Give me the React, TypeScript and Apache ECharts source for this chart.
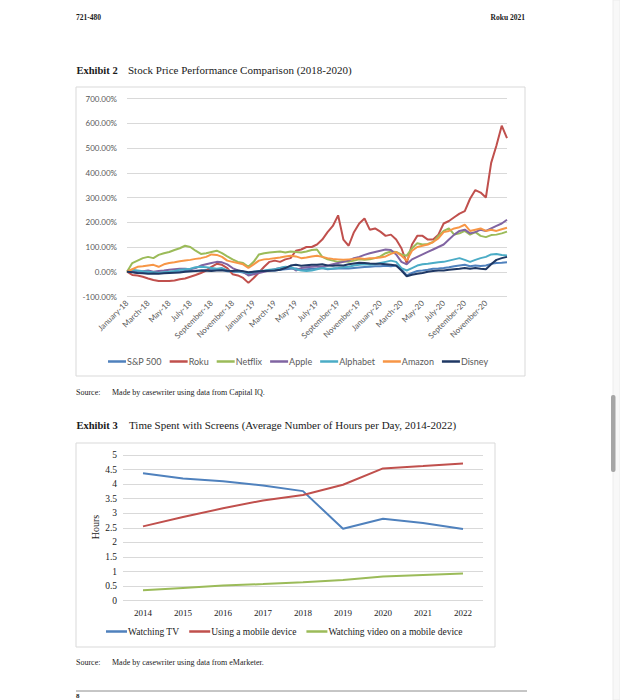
import React, { useEffect, useRef } from "react";
import * as echarts from "echarts";

// ---------- Exhibit 2 data (semi-monthly, Jan-2018 .. Dec-2020, % change) ----------
const stockTickLabels = [
  "January-18", "March-18", "May-18", "July-18", "September-18", "November-18",
  "January-19", "March-19", "May-19", "July-19", "September-19", "November-19",
  "January-20", "March-20", "May-20", "July-20", "September-20", "November-20",
];
const stockNames = ["S&P 500", "Roku", "Netflix", "Apple", "Alphabet", "Amazon", "Disney"];
const stockColors = ["#4F81BD", "#C0504D", "#9BBB59", "#8064A2", "#4BACC6", "#F79646", "#1F3864"];

const sp500 = [
  0, 4, 0, -2, -3, -2, -5, -3, -2, 0, 1, 3, 2, 4, 5, 7, 8, 9, 8, 2, 0, 1, -3, -10,
  -5, 0, 3, 5, 5, 8, 10, 12, 13, 8, 10, 12, 13, 15, 10, 12, 13, 14, 13, 15, 17, 19, 20, 22,
  22, 24, 22, 25, 10, -15, -5, 3, 5, 8, 12, 13, 15, 18, 22, 25, 28, 22, 25, 23, 25, 32, 35, 36, 38,
];
const roku = [
  0, -13, -15, -20, -27, -33, -37, -37, -37, -35, -30, -27, -20, -13, -5, 5, 20, 32, 28, 15, -10, -15, -25, -45,
  -25, -3, 20, 40, 45, 40, 50, 55, 85, 90, 100, 100, 110, 130, 160, 185, 228, 130, 105, 160, 195, 215, 170, 175,
  162, 145, 150, 130, 95, 35, 110, 145, 145, 130, 130, 150, 195, 205, 220, 235, 245, 295, 330, 320, 300, 440, 510, 590, 540,
];
const netflix = [
  0, 35, 45, 55, 60, 55, 68, 75, 80, 88, 95, 105, 100, 85, 72, 75, 80, 85, 75, 62, 50, 40, 35, 20,
  40, 70, 75, 78, 80, 82, 78, 82, 80, 78, 82, 88, 90, 60, 50, 45, 40, 42, 40, 45, 50, 48, 50, 55,
  62, 75, 82, 80, 70, 65, 95, 115, 110, 112, 120, 145, 165, 175, 150, 155, 165, 150, 160, 145, 140, 148, 150, 155, 162,
];
const apple = [
  0, 0, -5, 2, 5, 0, 3, 5, 8, 10, 12, 12, 10, 15, 25, 30, 35, 40, 38, 30, 15, 5, 0, -15,
  -10, -5, 0, 5, 10, 15, 18, 20, 5, 15, 18, 20, 22, 20, 25, 30, 35, 40, 45, 55, 60, 68, 75, 80,
  85, 90, 88, 70, 40, 30, 50, 60, 70, 80, 90, 100, 110, 130, 150, 165, 170, 155, 160, 170, 165, 175, 185, 195, 210,
];
const alphabet = [
  0, 8, 5, 2, 0, -2, -5, -2, 0, 3, 8, 10, 12, 18, 20, 18, 15, 12, 15, 5, 2, 3, 0, -5,
  0, 3, 5, 8, 10, 15, 20, 18, 10, 5, 3, 5, 10, 15, 12, 13, 15, 18, 20, 25, 28, 30, 28, 30,
  35, 40, 45, 40, 15, 5, 15, 25, 30, 32, 35, 38, 40, 45, 50, 55, 48, 40, 48, 55, 60, 70, 72, 68, 66,
];
const amazon = [
  0, 10, 20, 22, 25, 28, 20, 30, 35, 38, 42, 45, 48, 52, 55, 60, 70, 68, 60, 45, 40, 35, 30, 15,
  30, 45, 50, 52, 55, 58, 62, 65, 62, 55, 58, 62, 65, 60, 55, 52, 50, 48, 50, 52, 55, 52, 55, 56,
  58, 62, 72, 80, 65, 45, 85, 100, 105, 110, 120, 135, 160, 165, 175, 180, 190, 165, 170, 175, 165, 170, 165, 172, 178,
];
const disney = [
  0, -2, -5, -6, -8, -7, -8, -6, -5, -4, -3, 0, 2, 3, 5, 4, 3, 5, 6, 4, 3, 5, 2, -2,
  0, 2, 3, 4, 5, 8, 15, 25, 28, 24, 26, 28, 28, 30, 25, 24, 26, 25, 30, 33, 36, 35, 33, 32,
  32, 30, 28, 25, 5, -18, -12, -8, -5, 0, 3, 5, 5, 8, 10, 12, 15, 12, 15, 12, 10, 30, 48, 55, 60,
];
const stockSeries = [sp500, roku, netflix, apple, alphabet, amazon, disney];

// ---------- Exhibit 3 data ----------
const screenYears = ["2014", "2015", "2016", "2017", "2018", "2019", "2020", "2021", "2022"];
const screenNames = ["Watching TV", "Using a mobile device", "Watching video on a mobile device"];
const screenColors = ["#4F81BD", "#C0504D", "#9BBB59"];
const watchingTV = [4.37, 4.19, 4.1, 3.95, 3.76, 2.47, 2.81, 2.67, 2.46];
const mobileDevice = [2.55, 2.87, 3.17, 3.44, 3.63, 3.98, 4.54, 4.62, 4.71];
const mobileVideo = [0.36, 0.44, 0.52, 0.57, 0.63, 0.71, 0.83, 0.88, 0.93];
const screenSeries = [watchingTV, mobileDevice, mobileVideo];

const SERIF = "'Liberation Serif', 'DejaVu Serif', serif";
const SANS = "Lato, 'Open Sans', sans-serif";

export default function App() {
  const ref = useRef<HTMLDivElement>(null);

  useEffect(() => {
    if (!ref.current) return;
    const chart = echarts.init(ref.current, null, { renderer: "svg" });

    // semi-monthly category points: 73 points (two per month + final)
    const stockDates: string[] = [];
    for (let k = 0; k < sp500.length; k++) {
      const m = Math.floor(k / 2);
      const y = 2018 + Math.floor(m / 12);
      const mo = (m % 12) + 1;
      stockDates.push(`${y}-${mo}-${k % 2 === 0 ? 1 : 16}`);
    }

    const text = (t: string, x: number, y: number, size: number, opts: any = {}) => ({
      type: "text",
      x,
      y,
      rotation: opts.rotation || 0,
      style: {
        text: t,
        fontFamily: opts.family || SERIF,
        fontSize: size,
        fontWeight: opts.bold ? "bold" : "normal",
        fill: opts.fill || "#1a1a1a",
        align: opts.align || "left",
        verticalAlign: "middle",
      },
    });

    const option: any = {
      animation: false,
      backgroundColor: "#ffffff",
      grid: [
        { left: 127, top: 98.5, width: 380, height: 198, containLabel: false },
        { left: 123, top: 455, width: 360, height: 145.7, containLabel: false },
      ],
      xAxis: [
        {
          type: "category",
          gridIndex: 0,
          data: stockDates,
          boundaryGap: false,
          axisLine: { show: false },
          axisTick: { show: false },
          splitLine: { show: false },
          axisLabel: {
            interval: (idx: number) => idx % 4 === 0 && idx < 72,
            formatter: (_v: string, idx: number) => stockTickLabels[idx / 4] || "",
            rotate: 45,
            margin: 5,
            fontFamily: SANS,
            fontSize: 8,
            color: "#595959",
          },
        },
        {
          type: "category",
          gridIndex: 1,
          data: screenYears,
          boundaryGap: true,
          axisLine: { show: false },
          axisTick: { show: false },
          axisLabel: { fontFamily: SERIF, fontSize: 9, color: "#1a1a1a", margin: 8 },
        },
      ],
      yAxis: [
        {
          type: "value",
          gridIndex: 0,
          min: -100,
          max: 700,
          interval: 100,
          axisLine: { show: false },
          axisTick: { show: false },
          splitLine: { lineStyle: { color: "#d9d9d9", width: 1 } },
          axisLabel: {
            formatter: (v: number) => v.toFixed(2) + "%",
            fontFamily: SANS,
            fontSize: 8,
            color: "#595959",
            margin: 10,
          },
        },
        {
          type: "value",
          gridIndex: 1,
          min: 0,
          max: 5,
          interval: 0.5,
          axisLine: { show: false },
          axisTick: { show: false },
          splitLine: { lineStyle: { color: "#d9d9d9", width: 1 } },
          axisLabel: { fontFamily: SERIF, fontSize: 9.5, color: "#1a1a1a", margin: 6 },
        },
      ],
      legend: [
        {
          data: stockNames,
          left: 108,
          top: 357,
          padding: 0,
          itemWidth: 18,
          itemHeight: 2.5,
          itemGap: 8,
          icon: "rect",
          textStyle: { fontFamily: SANS, fontSize: 9, color: "#595959", padding: [0, 0, 0, -4] },
        },
        {
          data: screenNames,
          left: 106,
          top: 626.5,
          padding: 0,
          itemWidth: 21,
          itemHeight: 2.5,
          itemGap: 10,
          icon: "rect",
          textStyle: { fontFamily: SERIF, fontSize: 9.5, color: "#1a1a1a", padding: [0, 0, 0, -4] },
        },
      ],
      series: [
        ...stockNames.map((name, i) => ({
          name,
          type: "line",
          xAxisIndex: 0,
          yAxisIndex: 0,
          data: stockSeries[i],
          symbol: "none",
          showSymbol: false,
          lineStyle: { color: stockColors[i], width: 2 },
          itemStyle: { color: stockColors[i] },
        })),
        ...screenNames.map((name, i) => ({
          name,
          type: "line",
          xAxisIndex: 1,
          yAxisIndex: 1,
          data: screenSeries[i],
          symbol: "none",
          showSymbol: false,
          lineStyle: { color: screenColors[i], width: 2 },
          itemStyle: { color: screenColors[i] },
        })),
      ],
      graphic: [
        text("721-480", 76, 17, 7.5, { bold: true }),
        text("Roku 2021", 525, 17, 7.5, { bold: true, align: "right" }),
        text("Exhibit 2", 76.5, 70, 10.5, { bold: true }),
        text("Stock Price Performance Comparison (2018-2020)", 128, 70, 11),
        {
          type: "rect",
          shape: { x: 76, y: 87, width: 449, height: 289 },
          style: { fill: "none", stroke: "#d9d9d9", lineWidth: 1 },
          z: -1,
        },
        text("Source:", 76, 392, 8),
        text("Made by casewriter using data from Capital IQ.", 112, 392, 8),
        text("Exhibit 3", 76.5, 425, 10.5, { bold: true }),
        text("Time Spent with Screens (Average Number of Hours per Day, 2014-2022)", 129, 425, 11),
        {
          type: "rect",
          shape: { x: 76, y: 443, width: 419, height: 204 },
          style: { fill: "none", stroke: "#d9d9d9", lineWidth: 1 },
          z: -1,
        },
        text("Hours", 95, 527, 10, { rotation: Math.PI / 2, align: "center" }),
        text("Source:", 76, 662.5, 8),
        text("Made by casewriter using data from eMarketer.", 112, 662.5, 8),
        {
          type: "line",
          shape: { x1: 76, y1: 691, x2: 527, y2: 691 },
          style: { stroke: "#8c8c8c", lineWidth: 1 },
        },
        text("8", 76, 696, 7, { bold: true }),
        {
          type: "rect",
          shape: { x: 613, y: 0, width: 7, height: 700 },
          style: { fill: "#f8f8f8", stroke: "#ececec", lineWidth: 1 },
        },
        {
          type: "rect",
          shape: { x: 611, y: 395, width: 4.5, height: 77, r: 2 },
          style: { fill: "#a6a6a6" },
        },
      ],
    };

    chart.setOption(option);
    return () => chart.dispose();
  }, []);

  return (
    <div
      ref={ref}
      style={{ position: "absolute", left: 0, top: 0, width: 620, height: 700, background: "#fff" }}
    />
  );
}
